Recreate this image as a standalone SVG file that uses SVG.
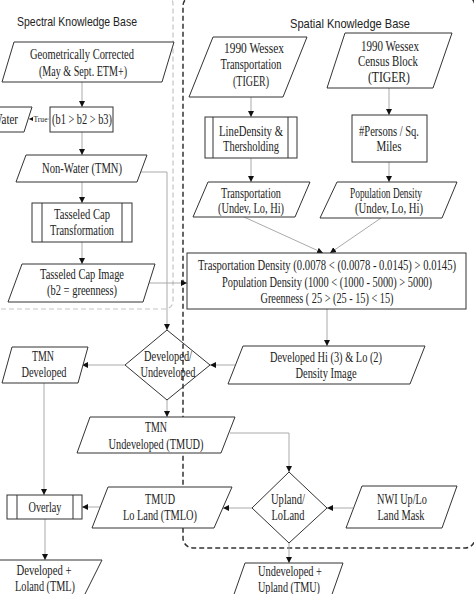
<svg xmlns="http://www.w3.org/2000/svg" width="474" height="594" viewBox="0 0 474 594">
<defs>
<marker id="ah" viewBox="0 0 6 6" refX="6" refY="3" markerWidth="6" markerHeight="6" orient="auto" markerUnits="userSpaceOnUse"><path d="M0,0 L6,3 L0,6 z" fill="#111"/></marker>
<style>
.n{fill:#fff;stroke:#333;stroke-width:1}
.d{fill:none;stroke:#333;stroke-width:1}
.t{font-family:"Liberation Serif","Times New Roman",serif;font-size:14px;fill:#222;text-anchor:middle}
.h{font-family:"Liberation Sans",Arial,sans-serif;font-size:13px;fill:#222;text-anchor:middle}
.c{fill:none;stroke:#aaa;stroke-width:1;marker-end:url(#ah)}
</style>
</defs>
<rect width="474" height="594" fill="#fff"/>
<g id="regions">
<rect x="-10" y="-4" width="183" height="313" rx="8" fill="none" stroke="#c4c4c4" stroke-width="1.2" stroke-dasharray="5,3"/>
<rect x="183" y="-4" width="292" height="552" rx="10" fill="none" stroke="#333" stroke-width="1.5" stroke-dasharray="5,3"/>
<text class="h" x="77" y="26" textLength="120" lengthAdjust="spacingAndGlyphs">Spectral Knowledge Base</text>
<text class="h" x="350" y="28" textLength="120" lengthAdjust="spacingAndGlyphs">Spatial Knowledge Base</text>
</g>
<g id="connectors">
<path class="c" d="M82,82 V107"/>
<path class="c" d="M49,119 H29"/>
<path class="c" d="M82,132 V155"/>
<path class="c" d="M82,182 V203"/>
<path class="c" d="M82,242 V264"/>
<path class="c" d="M149,283 H187"/>
<path class="c" d="M141,172 H167 V330"/>
<path class="c" d="M251,97 V117"/>
<path class="c" d="M251,158 V182"/>
<path class="c" d="M389,88 V115"/>
<path class="c" d="M389,162 V182"/>
<path class="c" d="M244,217 L323,253"/>
<path class="c" d="M381,218 L330,253"/>
<path class="c" d="M327,309 V346"/>
<path class="c" d="M235,365 H210"/>
<path class="c" d="M125,365 H82"/>
<path class="c" d="M44,383 V495"/>
<path class="c" d="M167,400 V417"/>
<path class="c" d="M230,433 H289 V472"/>
<path class="c" d="M353,508 H327"/>
<path class="c" d="M252,508 H223"/>
<path class="c" d="M100,507 H82"/>
<path class="c" d="M45,519 V560"/>
<path class="c" d="M289,543 V563"/>
<rect x="33" y="113" width="15" height="11" fill="#fff"/>
<text x="40.5" y="122" font-family="Liberation Serif, serif" font-size="9" fill="#222" text-anchor="middle" textLength="14" lengthAdjust="spacingAndGlyphs">True</text>
</g>
<g id="geo">
<polygon class="n" points="14,42 174,42 162,82 2,82"/>
<text class="t" x="82" y="59" textLength="104" lengthAdjust="spacingAndGlyphs">Geometrically Corrected</text>
<text class="t" x="83" y="76" textLength="88" lengthAdjust="spacingAndGlyphs">(May &amp; Sept. ETM+)</text>
</g>
<g id="water">
<polygon class="n" points="-40,107 32,107 24,132 -48,132"/>
<text class="t" x="18" y="124" text-anchor="end" style="text-anchor:end" textLength="26" lengthAdjust="spacingAndGlyphs">Water</text>
</g>
<g id="b1b2b3">
<rect class="n" x="50" y="107" width="63" height="25"/>
<text class="t" x="82" y="124" textLength="60" lengthAdjust="spacingAndGlyphs">(b1 &gt; b2 &gt; b3)</text>
</g>
<g id="nonwater">
<polygon class="n" points="26,155 147,155 137,182 16,182"/>
<text class="t" x="82" y="173" textLength="80" lengthAdjust="spacingAndGlyphs">Non-Water (TMN)</text>
</g>
<g id="tasseled">
<rect class="n" x="32" y="203" width="100" height="39"/>
<path class="d" d="M42,203 V242 M122,203 V242"/>
<text class="t" x="82" y="219" textLength="56" lengthAdjust="spacingAndGlyphs">Tasseled Cap</text>
<text class="t" x="82" y="235" textLength="64" lengthAdjust="spacingAndGlyphs">Transformation</text>
</g>
<g id="tci">
<polygon class="n" points="22,264 155,264 143,302 8,302"/>
<text class="t" x="82" y="279" textLength="84" lengthAdjust="spacingAndGlyphs">Tasseled Cap Image</text>
<text class="t" x="82" y="295" textLength="70" lengthAdjust="spacingAndGlyphs">(b2 = greenness)</text>
</g>
<g id="wessexT">
<polygon class="n" points="213,37 307,37 283,97 189,97"/>
<text class="t" x="254" y="53" textLength="60" lengthAdjust="spacingAndGlyphs">1990 Wessex</text>
<text class="t" x="251" y="69" textLength="61" lengthAdjust="spacingAndGlyphs">Transportation</text>
<text class="t" x="251" y="86" textLength="36" lengthAdjust="spacingAndGlyphs">(TIGER)</text>
</g>
<g id="wessexC">
<polygon class="n" points="345,33 452,33 433,88 327,88"/>
<text class="t" x="390" y="51" textLength="58" lengthAdjust="spacingAndGlyphs">1990 Wessex</text>
<text class="t" x="388" y="66" textLength="60" lengthAdjust="spacingAndGlyphs">Census Block</text>
<text class="t" x="389" y="82" textLength="42" lengthAdjust="spacingAndGlyphs">(TIGER)</text>
</g>
<g id="linedensity">
<rect class="n" x="205" y="117" width="92" height="41"/>
<path class="d" d="M213,117 V158 M288,117 V158"/>
<text class="t" x="251" y="136" textLength="64" lengthAdjust="spacingAndGlyphs">LineDensity &amp;</text>
<text class="t" x="251" y="151" textLength="56" lengthAdjust="spacingAndGlyphs">Thersholding</text>
</g>
<g id="persons">
<rect class="n" x="352" y="115" width="75" height="47"/>
<text class="t" x="389" y="136" textLength="60" lengthAdjust="spacingAndGlyphs">#Persons / Sq.</text>
<text class="t" x="389" y="151" textLength="25" lengthAdjust="spacingAndGlyphs">Miles</text>
</g>
<g id="transportation">
<polygon class="n" points="208,182 310,182 295,217 193,217"/>
<text class="t" x="251" y="198" textLength="60" lengthAdjust="spacingAndGlyphs">Transportation</text>
<text class="t" x="251" y="213" textLength="66" lengthAdjust="spacingAndGlyphs">(Undev, Lo, Hi)</text>
</g>
<g id="population">
<polygon class="n" points="337,182 457,182 442,218 320,218"/>
<text class="t" x="386" y="198" textLength="72" lengthAdjust="spacingAndGlyphs">Population Density</text>
<text class="t" x="389" y="213" textLength="68" lengthAdjust="spacingAndGlyphs">(Undev, Lo, Hi)</text>
</g>
<g id="rules">
<rect class="n" x="187" y="253" width="279" height="56"/>
<text class="t" x="327" y="270" textLength="258" lengthAdjust="spacingAndGlyphs">Trasportation Density (0.0078  &lt;  (0.0078 - 0.0145) &gt; 0.0145)</text>
<text class="t" x="327" y="287" textLength="210" lengthAdjust="spacingAndGlyphs">Population Density (1000 &lt; (1000 - 5000) &gt; 5000)</text>
<text class="t" x="327" y="303" textLength="133" lengthAdjust="spacingAndGlyphs">Greenness ( 25 &gt; (25 - 15) &lt; 15)</text>
</g>
<g id="densityimage">
<polygon class="n" points="243,346 425,346 410,384 228,384"/>
<text class="t" x="326" y="362" textLength="112" lengthAdjust="spacingAndGlyphs">Developed Hi (3) &amp; Lo (2)</text>
<text class="t" x="326" y="378" textLength="61" lengthAdjust="spacingAndGlyphs">Density Image</text>
</g>
<g id="devundev">
<polygon class="d" points="167,330 210,365 167,400 125,365"/>
<text class="t" x="168" y="361" textLength="48" lengthAdjust="spacingAndGlyphs">Developed/</text>
<text class="t" x="168" y="377" textLength="55" lengthAdjust="spacingAndGlyphs">Undeveloped</text>
</g>
<g id="tmndev">
<polygon class="n" points="12,347 88,347 78,383 2,383"/>
<text class="t" x="43" y="361" textLength="22" lengthAdjust="spacingAndGlyphs">TMN</text>
<text class="t" x="44" y="377" textLength="45" lengthAdjust="spacingAndGlyphs">Developed</text>
</g>
<g id="tmud">
<polygon class="n" points="90,417 235,417 221,453 77,453"/>
<text class="t" x="156" y="432" textLength="22" lengthAdjust="spacingAndGlyphs">TMN</text>
<text class="t" x="156" y="449" textLength="95" lengthAdjust="spacingAndGlyphs">Undeveloped (TMUD)</text>
</g>
<g id="upland">
<polygon class="d" points="289,472 327,508 289,543 252,508"/>
<text class="t" x="288" y="504" textLength="34" lengthAdjust="spacingAndGlyphs">Upland/</text>
<text class="t" x="288" y="520" textLength="33" lengthAdjust="spacingAndGlyphs">LoLand</text>
</g>
<g id="nwi">
<polygon class="n" points="362,486 457,486 442,528 346,528"/>
<text class="t" x="402" y="504" textLength="50" lengthAdjust="spacingAndGlyphs">NWI Up/Lo</text>
<text class="t" x="401" y="520" textLength="47" lengthAdjust="spacingAndGlyphs">Land Mask</text>
</g>
<g id="tmlo">
<polygon class="n" points="108,487 232,487 214,528 92,528"/>
<text class="t" x="160" y="504" textLength="30" lengthAdjust="spacingAndGlyphs">TMUD</text>
<text class="t" x="160" y="520" textLength="74" lengthAdjust="spacingAndGlyphs">Lo Land (TMLO)</text>
</g>
<g id="overlay">
<rect class="n" x="7" y="495" width="75" height="24"/>
<path class="d" d="M17,495 V519 M73,495 V519"/>
<text class="t" x="45" y="512" textLength="33" lengthAdjust="spacingAndGlyphs">Overlay</text>
</g>
<g id="tml">
<polygon class="n" points="-12,560 102,560 82,600 -32,600"/>
<text class="t" x="44" y="575" textLength="55" lengthAdjust="spacingAndGlyphs">Developed +</text>
<text class="t" x="45" y="591" textLength="60" lengthAdjust="spacingAndGlyphs">Loland (TML)</text>
</g>
<g id="tmu">
<polygon class="n" points="245,563 343,563 330,600 232,600"/>
<text class="t" x="290" y="576" textLength="64" lengthAdjust="spacingAndGlyphs">Undeveloped +</text>
<text class="t" x="289" y="592" textLength="62" lengthAdjust="spacingAndGlyphs">Upland (TMU)</text>
</g>
</svg>
